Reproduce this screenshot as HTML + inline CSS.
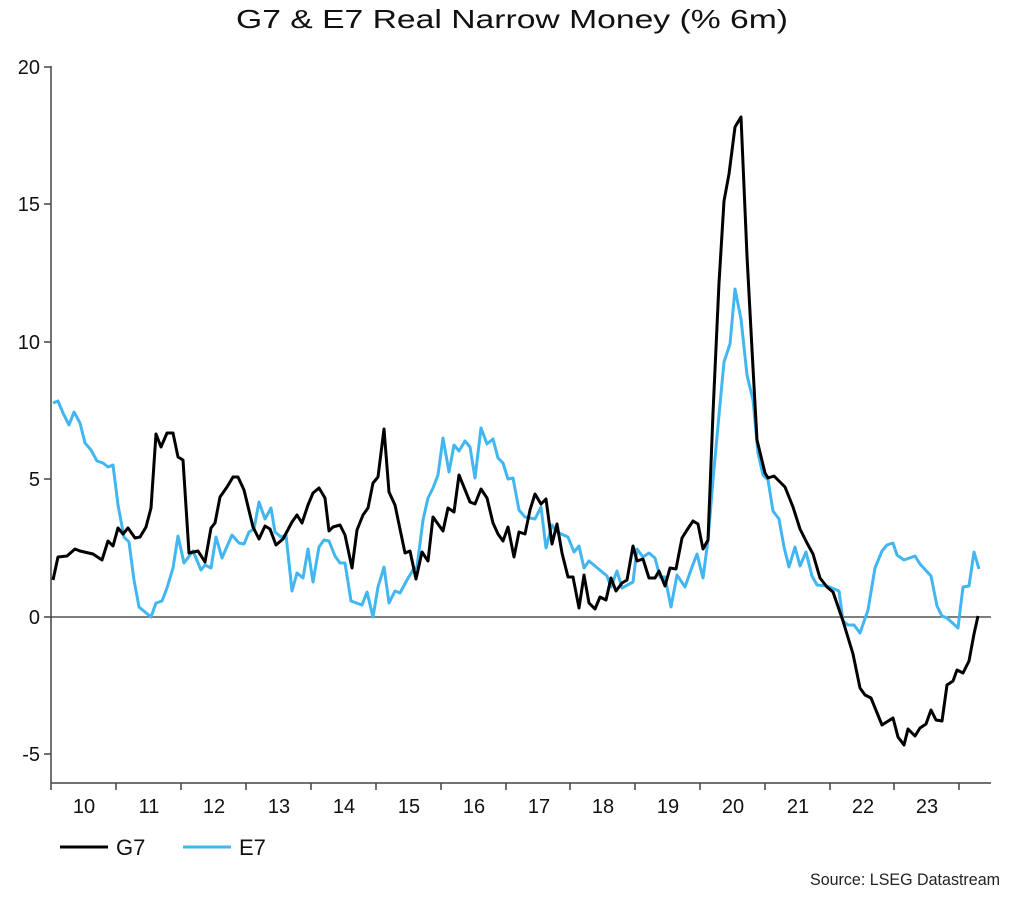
<!DOCTYPE html>
<html><head><meta charset="utf-8"><style>
html,body{margin:0;padding:0;background:#fff;}
svg{display:block;font-family:"Liberation Sans",sans-serif;}
</style></head><body>
<svg width="1024" height="897" viewBox="0 0 1024 897" xmlns="http://www.w3.org/2000/svg">
<rect width="1024" height="897" fill="#fff"/>
<text x="512" y="28" text-anchor="middle" font-size="26" fill="#111" textLength="552" lengthAdjust="spacingAndGlyphs">G7 &amp; E7 Real Narrow Money (% 6m)</text>
<g stroke="#444" stroke-width="1.5" fill="none">
<line x1="51" y1="66" x2="51" y2="783"/>
<line x1="51" y1="783" x2="991" y2="783"/>
<line x1="51" y1="617" x2="991" y2="617" stroke="#333" stroke-width="1.3"/>
<line x1="44" y1="67" x2="51" y2="67"/><line x1="44" y1="204" x2="51" y2="204"/><line x1="44" y1="342" x2="51" y2="342"/><line x1="44" y1="479" x2="51" y2="479"/><line x1="44" y1="617" x2="51" y2="617"/><line x1="44" y1="754" x2="51" y2="754"/>
<path d="M51 783v7M116 783v7M181 783v7M246 783v7M311 783v7M376 783v7M441 783v7M506 783v7M570 783v7M635 783v7M700 783v7M765 783v7M830 783v7M894 783v7M959 783v7"/>
</g>
<g font-size="20" fill="#111" text-anchor="end">
<text x="40" y="74">20</text><text x="40" y="211">15</text><text x="40" y="349">10</text><text x="40" y="486">5</text><text x="40" y="624">0</text><text x="40" y="761">-5</text>
</g>
<g font-size="20" fill="#111" text-anchor="middle">
<text x="84" y="813">10</text><text x="149" y="813">11</text><text x="214" y="813">12</text><text x="279" y="813">13</text><text x="344" y="813">14</text><text x="409" y="813">15</text><text x="474" y="813">16</text><text x="539" y="813">17</text><text x="603" y="813">18</text><text x="668" y="813">19</text><text x="733" y="813">20</text><text x="798" y="813">21</text><text x="863" y="813">22</text><text x="927" y="813">23</text>
</g>
<polyline fill="none" stroke="#41b6f0" stroke-width="3" stroke-linejoin="round" points="53,403 58,401 63,413 69,425 74,412 80,423 85,443 91,450 97,461 103,463 108,467 113,465 118,505 124,537 129,542 134,580 139,607 151,617 156,603 162,601 167,588 173,568 178,536 184,563 193,551 201,570 205,565 211,568 216,537 222,558 232,535 239,543 244,544 249,532 254,529 259,502 265,519 271,508 275,532 281,537 286,535 292,591 297,573 303,578 308,549 313,582 319,547 324,540 329,541 335,556 340,563 345,563 351,601 362,605 367,592 373,617 378,587 384,567 389,603 395,591 400,593 407,580 413,570 417,567 423,520 428,498 433,488 438,475 443,438 449,472 454,445 459,451 465,441 470,447 475,478 481,428 487,444 493,439 498,458 503,463 508,479 513,478 519,510 525,517 535,519 541,507 546,548 552,525 557,532 568,537 574,552 579,546 584,568 589,561 607,576 611,587 617,571 622,588 633,582 637,549 643,557 649,553 655,558 660,577 665,577 671,607 677,575 685,587 692,567 697,554 703,578 708,540 713,480 719,415 724,362 730,344 735,289 741,319 747,375 753,400 758,453 763,475 768,480 773,511 779,519 784,547 789,567 795,547 800,566 806,552 812,576 817,585 827,586 839,591 843,621 848,625 854,625 860,633 868,610 875,568 882,551 887,545 893,543 897,555 904,560 915,556 920,564 931,576 937,606 942,616 947,618 958,628 963,587 969,586 974,552 979,569"/>
<polyline fill="none" stroke="#000" stroke-width="3" stroke-linejoin="round" points="53,580 58,557 67,556 75,549 80,551 93,554 102,560 108,541 113,546 118,528 123,534 128,528 135,538 140,537 146,527 151,508 156,434 161,447 167,433 173,433 178,457 183,460 189,553 198,551 205,562 211,528 215,523 220,497 227,487 233,477 238,477 244,490 253,527 259,539 265,526 270,529 276,545 283,539 292,522 297,515 302,523 308,505 313,493 319,488 325,498 329,531 333,527 340,525 345,535 352,568 357,530 363,515 368,508 373,483 378,477 384,429 389,492 395,505 405,553 410,551 416,579 422,552 428,561 433,517 443,531 448,508 454,512 459,475 470,502 475,504 481,489 487,498 493,523 498,534 503,541 508,527 514,557 519,532 525,534 530,510 535,494 541,504 546,499 552,544 557,524 562,553 568,577 573,577 579,608 584,575 589,603 595,609 600,597 606,600 611,578 616,591 622,583 627,580 633,546 637,561 643,559 649,578 655,578 659,571 665,586 670,568 676,569 682,538 687,530 693,521 698,524 703,549 708,540 713,413 719,283 724,201 729,174 735,127 741,117 747,256 753,368 757,440 765,473 768,478 774,476 780,482 785,487 793,507 800,529 807,543 813,554 820,578 827,587 833,592 843,621 853,654 860,688 865,695 871,698 882,725 893,718 898,737 904,745 908,729 915,736 920,728 926,724 931,710 936,720 942,721 947,685 953,681 957,670 963,673 969,661 974,634 978,616"/>
<line x1="60" y1="847" x2="108" y2="847" stroke="#000" stroke-width="3"/>
<text x="116" y="855" font-size="22" fill="#111">G7</text>
<line x1="183" y1="847" x2="231" y2="847" stroke="#41b6f0" stroke-width="3"/>
<text x="239" y="855" font-size="22" fill="#111">E7</text>
<text x="1000" y="885" font-size="17" fill="#222" text-anchor="end" textLength="190" lengthAdjust="spacingAndGlyphs">Source: LSEG Datastream</text>
</svg>
</body></html>
